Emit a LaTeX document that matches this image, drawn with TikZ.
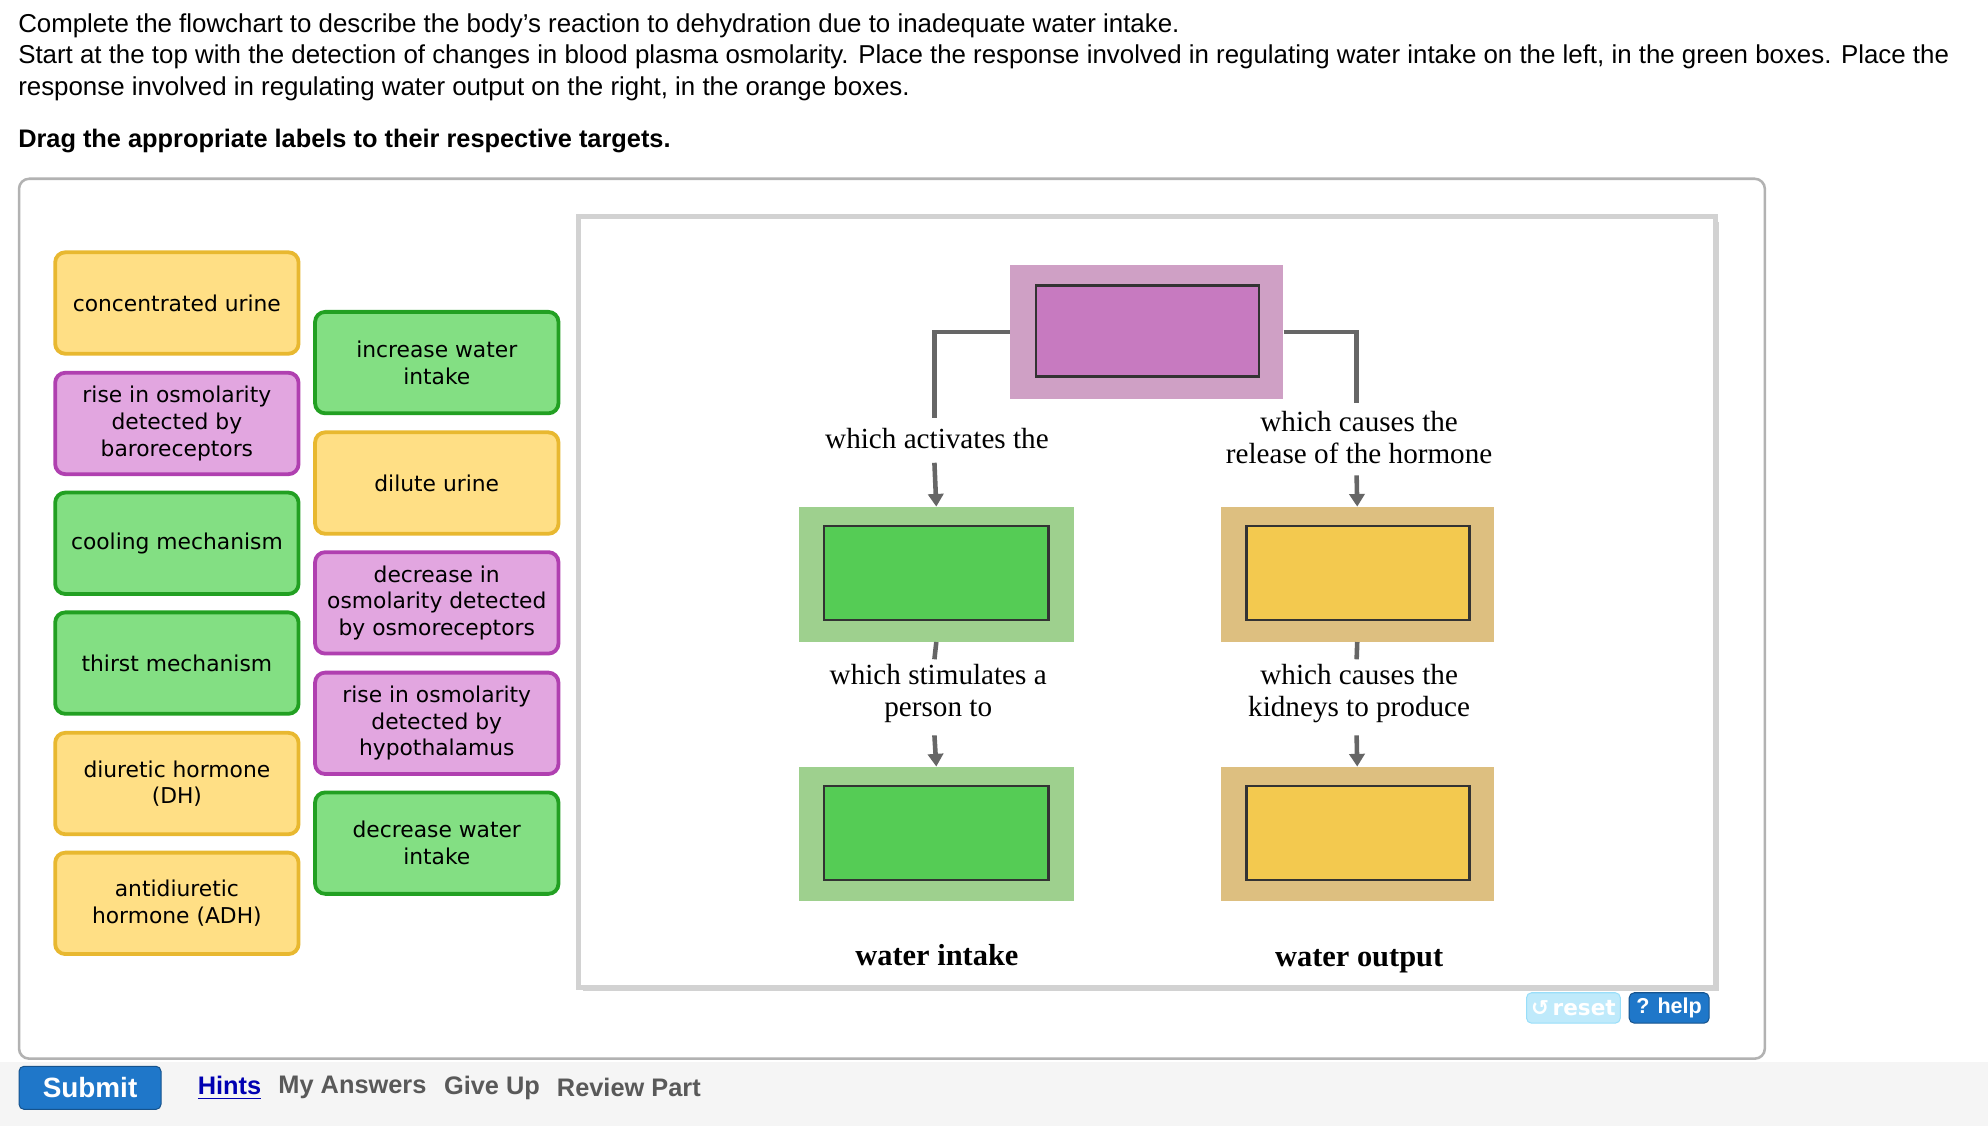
\documentclass[tikz,border=0pt]{standalone}
\usepackage{fontspec}
\setmainfont{Liberation Sans}
\newfontfamily\lbl{DejaVu Sans}
\newfontfamily\srf{Liberation Serif}
\usetikzlibrary{arrows.meta}
\definecolor{gfill}{HTML}{83DF83}\definecolor{gdraw}{HTML}{22A022}
\definecolor{yfill}{HTML}{FFDF85}\definecolor{ydraw}{HTML}{E8B830}
\definecolor{pfill}{HTML}{E2A6E0}\definecolor{pdraw}{HTML}{B040B0}
\definecolor{pinkout}{HTML}{CFA0C5}\definecolor{pinkin}{HTML}{C77AC0}
\definecolor{gout}{HTML}{9ED08E}\definecolor{gin}{HTML}{55CC55}
\definecolor{oout}{HTML}{DDBF80}\definecolor{oin}{HTML}{F3C94F}
\definecolor{btn}{HTML}{1F77C9}
\tikzset{
 lab/.style={rounded corners=4pt,line width=1.5pt,minimum width=96pt,minimum height=40pt,align=center,font=\lbl\fontsize{8.6}{10.5}\selectfont,inner sep=1pt},
 gl/.style={lab,fill=gfill,draw=gdraw},
 yl/.style={lab,fill=yfill,draw=ydraw},
 pl/.style={lab,fill=pfill,draw=pdraw},
 conn/.style={draw=gray!80!black,line width=1.8pt},
 arr/.style={conn,-{Triangle[length=5pt,width=6pt]}},
 captxt/.style={font=\srf\fontsize{11.5}{12.5}\selectfont,align=center},
 toptxt/.style={anchor=west,font=\fontsize{10.2}{12.5}\selectfont,inner sep=0pt},
 lnk/.style={font=\bfseries\fontsize{10}{12}\selectfont,text=gray!70!black,inner sep=0pt}
}
\begin{document}
\begin{tikzpicture}[x=0.5pt,y=-0.5pt]
\useasboundingbox (0,0) rectangle (1568,888);
\fill[white] (0,0) rectangle (1568,888);
\fill[gray!8] (0,838) rectangle (1568,888);
\node[toptxt] (t1) at (14,20) {Complete the flowchart to describe the body's reaction to dehydration due to inadequate water intake.};
\node[toptxt] (t2) at (14,45) {Start at the top with the detection of changes in blood plasma osmolarity. Place the response involved in regulating water intake on the left, in the green boxes. Place the};
\node[toptxt] (t3) at (14,70) {response involved in regulating water output on the right, in the orange boxes.};
\node[toptxt,font=\bfseries\fontsize{10}{12}\selectfont] (t4) at (14,111) {Drag the appropriate labels to their respective targets.};
\draw[gray!60,line width=1pt,rounded corners=4pt,fill=white] (15,141) rectangle (1392,835);
% labels
\node[yl] (a1) at (139.5,239) {concentrated urine};
\node[pl] (a2) at (139.5,334) {rise in osmolarity\\detected by\\baroreceptors};
\node[gl] (a3) at (139.5,428.5) {cooling mechanism};
\node[gl] (a4) at (139.5,523) {thirst mechanism};
\node[yl] (a5) at (139.5,618) {diuretic hormone\\(DH)};
\node[yl] (a6) at (139.5,712.5) {antidiuretic\\hormone (ADH)};
\node[gl] (b1) at (344.5,286) {increase water\\intake};
\node[yl] (b2) at (344.5,381) {dilute urine};
\node[pl] (b3) at (344.5,475.5) {decrease in\\osmolarity detected\\by osmoreceptors};
\node[pl] (b4) at (344.5,570.5) {rise in osmolarity\\detected by\\hypothalamus};
\node[gl] (b5) at (344.5,665) {decrease water\\intake};
% panel
\fill[gray!35] (460,175) rectangle (1356,782);
\draw[gray!35,line width=2pt,fill=white] (456,171) rectangle (1353,779);
% flow boxes
\node[fill=pinkout,minimum width=107.5pt,minimum height=53pt,inner sep=0pt] (top) at (904.5,262) {};
\fill[pinkin,draw=gray!40!black,line width=1pt] (817,225) rectangle (993,297);
\node[fill=gout,minimum width=108.5pt,minimum height=53pt,inner sep=0pt] (g1) at (738.5,453) {};
\fill[gin,draw=gray!40!black,line width=1pt] (650,415) rectangle (827,489);
\node[fill=gout,minimum width=108.5pt,minimum height=53pt,inner sep=0pt] (g2) at (738.5,658) {};
\fill[gin,draw=gray!40!black,line width=1pt] (650,620) rectangle (827,694);
\node[fill=oout,minimum width=107.5pt,minimum height=53pt,inner sep=0pt] (o1) at (1070.5,453) {};
\fill[oin,draw=gray!40!black,line width=1pt] (983,415) rectangle (1159,489);
\node[fill=oout,minimum width=107.5pt,minimum height=53pt,inner sep=0pt] (o2) at (1070.5,658) {};
\fill[oin,draw=gray!40!black,line width=1pt] (983,620) rectangle (1159,694);
% captions
\node[captxt] (c1) at (739,346) {which activates the};
\node[captxt] (c2) at (1072,345) {which causes the\\release of the hormone};
\node[captxt] (c3) at (740,547) {which stimulates a\\person to};
\node[captxt] (c4) at (1072,547) {which causes the\\kidneys to produce};
\node[captxt,font=\srf\bfseries\fontsize{12}{12}\selectfont] (w1) at (739,753) {water intake};
\node[captxt,font=\srf\bfseries\fontsize{12}{12}\selectfont] (w2) at (1072,758) {water output};
% connectors
\draw[conn] (top.west) -| (737,330);
\draw[arr] (737,365) -- (g1.north);
\draw[conn] (top.east) -| (1070,318);
\draw[arr] (1070,375) -- (o1.north);
\draw[conn] (g1.south) -- (737,520);
\draw[arr] (737,580) -- (g2.north);
\draw[conn] (o1.south) -- (1070,520);
\draw[arr] (1070,580) -- (o2.north);
% buttons
\node[fill=cyan!25,draw=cyan!40,rounded corners=2pt,minimum width=37pt,minimum height=12pt,inner sep=0pt,text=white,font=\bfseries\fontsize{8.5}{9}\selectfont] (rs) at (1241,795) {\lbl↺\,reset};
\node[fill=btn,draw=btn!70!black,rounded corners=2pt,minimum width=31.5pt,minimum height=12pt,inner sep=0pt,text=white,font=\bfseries\fontsize{8.5}{9}\selectfont] (hp) at (1316.5,795) {? help};
\node[fill=btn,draw=btn!70!black,rounded corners=2pt,minimum width=56pt,minimum height=17pt,inner sep=0pt,text=white,font=\bfseries\fontsize{11}{12}\selectfont] (sub) at (71,858) {Submit};
\node[lnk,text=blue!70!black] (h) at (181,858) {\underline{Hints}};
\node[lnk] (m) at (278,858) {My Answers};
\node[lnk] (g) at (388,858) {Give Up};
\node[lnk] (r) at (496,858) {Review Part};
\end{tikzpicture}
\end{document}
